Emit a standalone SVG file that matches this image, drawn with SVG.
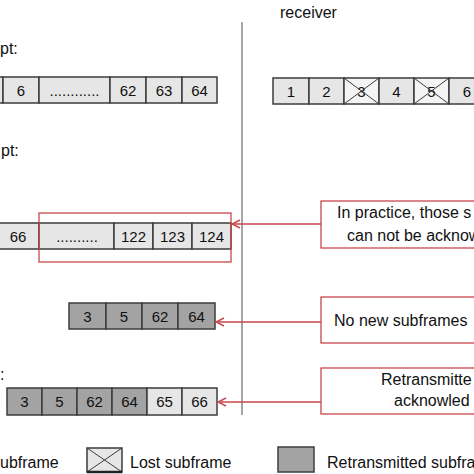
<svg xmlns="http://www.w3.org/2000/svg" width="474" height="474" viewBox="0 0 474 474">
<style>
  text { font-family: "Liberation Sans", Arial, sans-serif; fill: #111; }
  .lbl { font-size: 16px; }
  .cellt { font-size: 15px; text-anchor: middle; }
  .call { font-size: 16px; }
  .lc { fill: #e6e6e6; stroke: #3c3c3c; stroke-width: 1.5; }
  .lost { fill: #f4f4f4; stroke: #3c3c3c; stroke-width: 1.5; }
  .dc { fill: #a3a3a3; stroke: #3c3c3c; stroke-width: 1.5; }
  .x { stroke: #3c3c3c; stroke-width: 1; }
  .red { fill: none; stroke: #c9474a; stroke-width: 1.3; }
  .arrow { fill: none; stroke: #c9474a; stroke-width: 1.5; marker-end: url(#ah); }
</style>
<defs>
  <marker id="ah" viewBox="0 0 10 10" refX="9" refY="5" markerWidth="10" markerHeight="10" markerUnits="userSpaceOnUse" orient="auto">
    <path d="M1,1 L9,5 L1,9" fill="none" stroke="#c9474a" stroke-width="1.5"/>
  </marker>
</defs>
<rect width="474" height="474" fill="#fff"/>

<g id="labels">
  <text class="lbl" x="0" y="54">pt:</text>
  <text class="lbl" x="1" y="156">pt:</text>
  <text class="lbl" x="0" y="380">:</text>
  <text class="lbl" x="280" y="18">receiver</text>
</g>

<line x1="242" y1="22" x2="242" y2="415" stroke="#a6a6a6" stroke-width="2"/>

<g id="row1-sender">
  <rect class="lc" x="-30" y="77" width="33" height="26"/>
  <rect class="lc" x="3" y="77" width="36" height="26"/><text class="cellt" x="21" y="95.5">6</text>
  <rect class="lc" x="39" y="77" width="71" height="26"/><text class="cellt" x="74.5" y="95.5">............</text>
  <rect class="lc" x="110" y="77" width="36" height="26"/><text class="cellt" x="128" y="95.5">62</text>
  <rect class="lc" x="146" y="77" width="36" height="26"/><text class="cellt" x="164" y="95.5">63</text>
  <rect class="lc" x="182" y="77" width="35" height="26"/><text class="cellt" x="199.5" y="95.5">64</text>
</g>

<g id="row1-receiver">
  <rect class="lc" x="273" y="78" width="36" height="26"/><text class="cellt" x="291" y="96.5">1</text>
  <rect class="lc" x="309" y="78" width="35" height="26"/><text class="cellt" x="326.5" y="96.5">2</text>
  <rect class="lost" x="344" y="78" width="35" height="26"/><text class="cellt" x="361.5" y="96.5">3</text>
  <line class="x" x1="344" y1="78" x2="379" y2="104"/><line class="x" x1="379" y1="78" x2="344" y2="104"/>
  <rect class="lc" x="379" y="78" width="35" height="26"/><text class="cellt" x="396.5" y="96.5">4</text>
  <rect class="lost" x="414" y="78" width="35" height="26"/><text class="cellt" x="431.5" y="96.5">5</text>
  <line class="x" x1="414" y1="78" x2="449" y2="104"/><line class="x" x1="449" y1="78" x2="414" y2="104"/>
  <rect class="lc" x="449" y="78" width="36" height="26"/><text class="cellt" x="467" y="96.5">6</text>
</g>

<g id="row2">
  <rect class="lc" x="-5" y="223" width="44" height="26"/><text class="cellt" x="18" y="241.5">66</text>
  <rect class="lc" x="39" y="223" width="75" height="26"/><text class="cellt" x="77" y="241.5">..........</text>
  <rect class="lc" x="114" y="223" width="39" height="26"/><text class="cellt" x="133.5" y="241.5">122</text>
  <rect class="lc" x="153" y="223" width="39" height="26"/><text class="cellt" x="172.5" y="241.5">123</text>
  <rect class="lc" x="192" y="223" width="39" height="26"/><text class="cellt" x="211.5" y="241.5">124</text>
  <rect class="red" x="39" y="213" width="192" height="49"/>
</g>

<g id="row3">
  <rect class="dc" x="69" y="303" width="37" height="26"/><text class="cellt" x="87.5" y="321.5">3</text>
  <rect class="dc" x="106" y="303" width="36" height="26"/><text class="cellt" x="124" y="321.5">5</text>
  <rect class="dc" x="142" y="303" width="36" height="26"/><text class="cellt" x="160" y="321.5">62</text>
  <rect class="dc" x="178" y="303" width="37" height="26"/><text class="cellt" x="196.5" y="321.5">64</text>
</g>

<g id="row4">
  <rect class="dc" x="7" y="388" width="35" height="27"/><text class="cellt" x="24.5" y="407">3</text>
  <rect class="dc" x="42" y="388" width="35" height="27"/><text class="cellt" x="59.5" y="407">5</text>
  <rect class="dc" x="77" y="388" width="35" height="27"/><text class="cellt" x="94.5" y="407">62</text>
  <rect class="dc" x="112" y="388" width="35" height="27"/><text class="cellt" x="129.5" y="407">64</text>
  <rect class="lc" x="147" y="388" width="35" height="27"/><text class="cellt" x="164.5" y="407">65</text>
  <rect class="lc" x="182" y="388" width="35" height="27"/><text class="cellt" x="199.5" y="407">66</text>
</g>

<g id="callout1">
  <rect class="red" x="321" y="201" width="200" height="47"/>
  <text class="call" x="337" y="218">In practice, those s</text>
  <text class="call" x="347" y="241">can not be acknow</text>
</g>
<g id="callout2">
  <rect class="red" x="321" y="297" width="200" height="46"/>
  <text class="call" x="334" y="326">No new subframes</text>
</g>
<g id="callout3">
  <rect class="red" x="321" y="368" width="200" height="46"/>
  <text class="call" x="381" y="385">Retransmitte</text>
  <text class="call" x="394" y="406">acknowled</text>
</g>

<g id="connectors">
  <line class="arrow" x1="321" y1="224" x2="232" y2="224"/>
  <line class="arrow" x1="321" y1="322" x2="216" y2="322"/>
  <line class="arrow" x1="321" y1="402" x2="218" y2="402"/>
</g>

<g id="legend">
  <text class="lbl" x="0" y="468">ubframe</text>
  <rect class="lc" x="87" y="448" width="35" height="24"/>
  <line class="x" x1="87" y1="448" x2="122" y2="472"/><line class="x" x1="122" y1="448" x2="87" y2="472"/>
  <line x1="87" y1="472" x2="122" y2="472" stroke="#222" stroke-width="2.5"/>
  <text class="lbl" x="130" y="468">Lost subframe</text>
  <rect class="dc" x="278" y="447" width="36" height="25"/>
  <text class="lbl" x="327" y="468">Retransmitted subfra</text>
</g>
</svg>
